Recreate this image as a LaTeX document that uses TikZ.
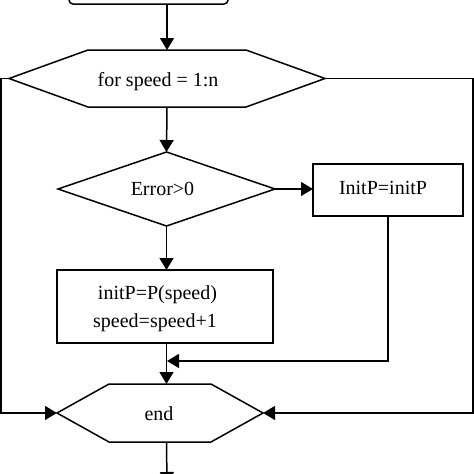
\documentclass[tikz,border=0pt]{standalone}
\usepackage{fontspec}
\setmainfont{Liberation Serif}
\usetikzlibrary{arrows.meta,calc}
\begin{document}
\begin{tikzpicture}[x=1pt,y=-1pt,
  line width=1.5pt,
  arr/.style={-{Triangle[length=12pt,width=14pt]}},
  shapebox/.style={inner sep=0pt, outer sep=0pt},
  lbl/.style={font=\fontsize{20}{28}\selectfont, inner sep=0pt, anchor=base}]
\useasboundingbox (0,0) rectangle (474,474);
\clip (0,0) rectangle (474,474);
% shapes
\node[shapebox, draw, rounded corners=4pt, minimum width=159pt, minimum height=60pt] (start) at (148.5,-26) {};
\node[shapebox, minimum width=316pt, minimum height=57pt] (for) at (167,78.5) {};
\draw (for.west) -- ($(for.north west)+(79,0)$) -- ($(for.north east)+(-79,0)$) -- (for.east)
  -- ($(for.south east)+(-79,0)$) -- ($(for.south west)+(79,0)$) -- cycle;
\node[shapebox, minimum width=217pt, minimum height=74pt] (err) at (166.5,189) {};
\draw (err.north) -- (err.east) -- (err.south) -- (err.west) -- cycle;
\node[shapebox, draw, minimum width=150pt, minimum height=52pt] (init) at (388,190) {};
\node[shapebox, draw, minimum width=216pt, minimum height=73pt] (pb) at (165,306.5) {};
\node[shapebox, minimum width=206pt, minimum height=58pt] (end) at (160,413) {};
\draw (end.west) -- ($(end.north west)+(52,0)$) -- ($(end.north east)+(-52,0)$) -- (end.east)
  -- ($(end.south east)+(-52,0)$) -- ($(end.south west)+(52,0)$) -- cycle;
% labels
\node[lbl] (tfor) at (158,86) {for speed = 1:n};
\node[lbl] (terr) at (162.5,195.5) {Error>0};
\node[lbl] (tinit) at (383,194) {InitP=initP};
\node[lbl] (tpb1) at (157.5,299) {initP=P(speed)};
\node[lbl] (tpb2) at (155,327) {speed=speed+1};
\node[lbl] (tend) at (159,420) {end};
% helper coordinates
\coordinate (join) at (167,361);
\coordinate (rb) at (473,413);
\coordinate (lb) at (1,413);
\coordinate (out) at (167,484);
% connectors
\draw[arr] (start.south -| for.north) -- (for.north);
\draw[arr] (for.south) -- (err.north);
\draw[arr] (err.east) -- (err.east -| init.west);
\draw[arr] (err.south) -- (err.south |- pb.north);
\draw[arr] (err.south |- pb.south) -- (err.south |- end.north);
\draw[arr] (init.south) |- (join);
\draw[arr] (for.east) -| (rb) -- (end.east);
\draw[arr] (for.west) -| (lb) -- (end.west);
\draw[arr] (err.south |- end.south) -- (out);
\end{tikzpicture}
\end{document}
